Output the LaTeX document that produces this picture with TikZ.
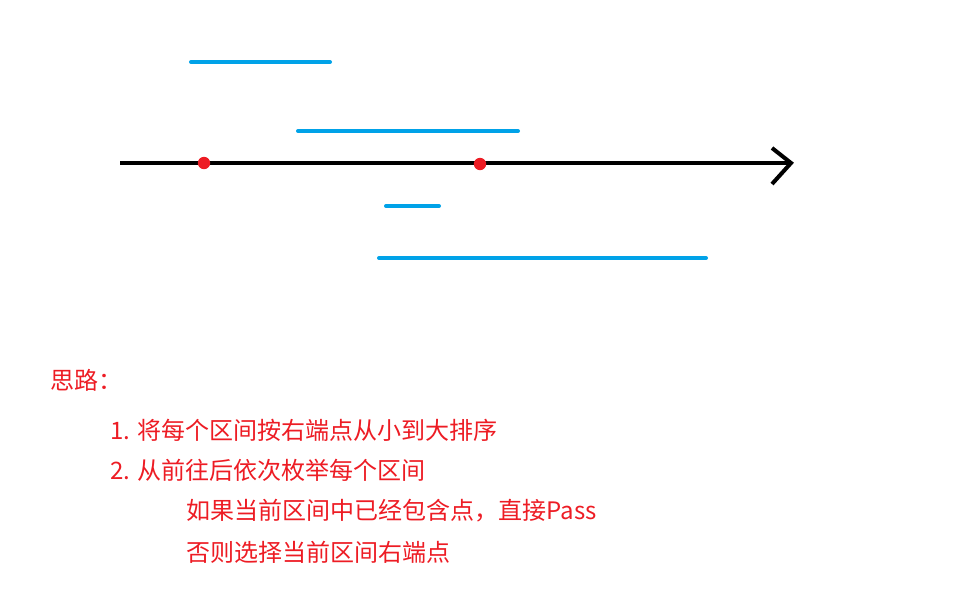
\documentclass[tikz,border=0pt]{standalone}
\usepackage{fontspec}
\newfontfamily\cjk{Noto Sans CJK SC}
\usepackage{tikz}
\usetikzlibrary{calc, arrows.meta}
\usepackage{tkz-base, tkz-euclide}
\definecolor{segblue}{RGB}{0,162,232}
\definecolor{notered}{RGB}{237,28,36}
\tikzset{
  seg/.style={segblue, line width=5.7pt, line cap=round},
  axisline/.style={black, line width=5.7pt},
  note/.style={anchor=west, inner sep=0pt, text=notered, font=\cjk\fontsize{34.2}{40}\selectfont}
}

\begin{document}
\begin{tikzpicture}[x=0.5cm, y=-0.5cm]
\useasboundingbox (0,0) rectangle (95.4,61);
\tkzDefPoints{12/16.3/o, 79.1/16.3/e, 77.2/14.8/u, 77.2/18.4/l}
\draw[axisline] (o) -- (e);
\draw[axisline, line join=miter] (u) -- (e) -- (l);
% intervals
\tkzDefPoints{19.1/6.2/a1, 33/6.2/b1, 29.8/13.1/a2, 51.8/13.1/b2}
\tkzDefPoints{38.6/20.6/a3, 43.9/20.6/b3, 37.9/25.8/a4, 70.6/25.8/b4}
\draw[seg] (a1) -- (b1);
\draw[seg] (a2) -- (b2);
\draw[seg] (a3) -- (b3);
\draw[seg] (a4) -- (b4);
% chosen points
\tkzDefPoints{20.4/16.3/P, 48/16.4/Q}
\fill[notered] (P) circle (0.62);
\fill[notered] (Q) circle (0.62);

\node[note] (title) at (5,38) {思路：};
\node[note] (step1) at (11,43) {1. 将每个区间按右端点从小到大排序};
\node[note] (step2) at (11,47) {2. 从前往后依次枚举每个区间};
\node[note] (case1) at (18.6,51.1) {如果当前区间中已经包含点，直接Pass};
\node[note] (case2) at (18.6,55.2) {否则选择当前区间右端点};
\end{tikzpicture}
\end{document}
